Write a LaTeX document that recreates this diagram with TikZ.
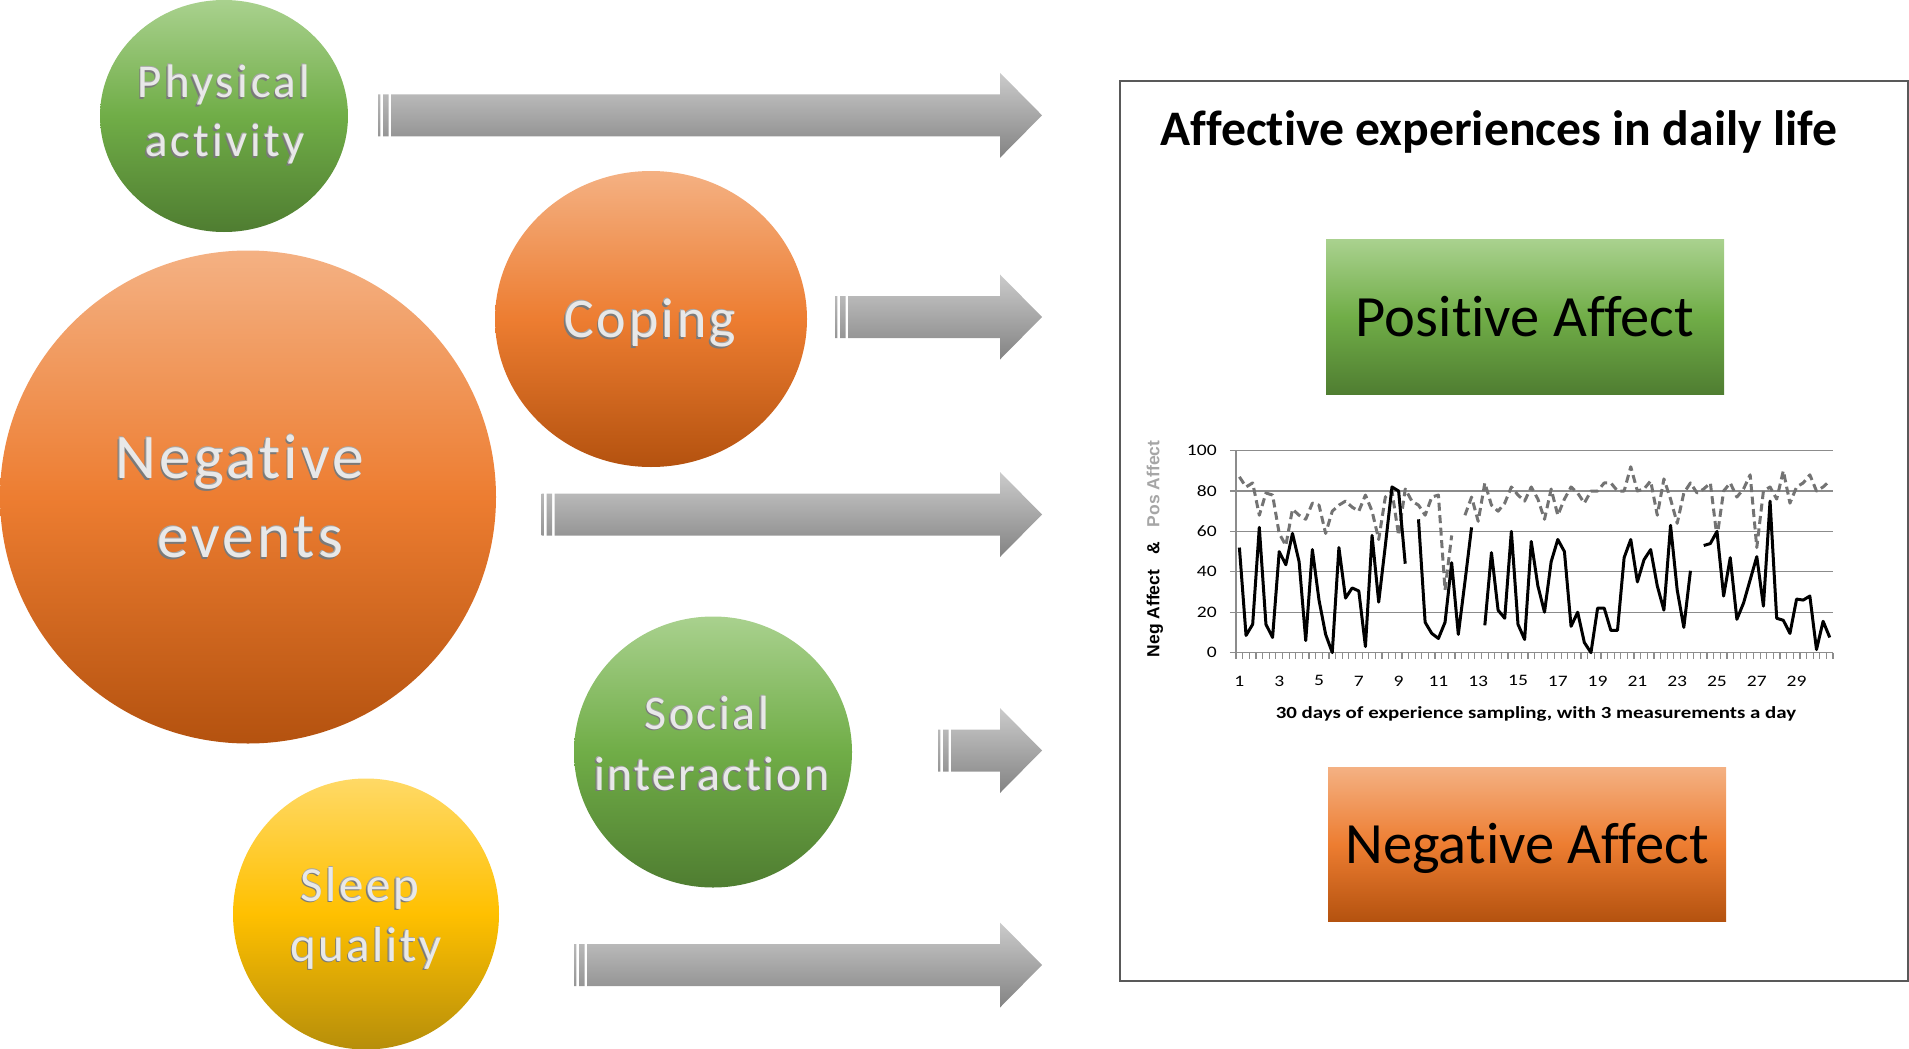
\documentclass[tikz,border=0pt]{standalone}
\usepackage{fontspec}
\usepackage{graphicx}
\setmainfont{Carlito}[Ligatures=NoCommon]
\newfontfamily\circfont[LetterSpace=5.0,Ligatures=NoCommon]{Carlito}
\newfontfamily\arialf{Liberation Sans}
\usetikzlibrary{shapes.geometric}
\definecolor{gT}{HTML}{A9D18E}
\definecolor{gM}{HTML}{70AD47}
\definecolor{gB}{HTML}{4F7D31}
\definecolor{oT}{HTML}{F4B183}
\definecolor{oM}{HTML}{ED7D31}
\definecolor{oB}{HTML}{B4520F}
\definecolor{yT}{HTML}{FFD966}
\definecolor{yM}{HTML}{FFC000}
\definecolor{yB}{HTML}{B68E0A}
\definecolor{arT}{HTML}{CBCBCB}
\definecolor{arB}{HTML}{838383}
\definecolor{txtlight}{HTML}{E8E8E8}
\definecolor{embshadow}{HTML}{7A7A7A}
\definecolor{gridgray}{HTML}{8C8C8C}
\definecolor{posgray}{HTML}{A6A6A6}
\definecolor{posline}{HTML}{737373}
\definecolor{panelgray}{HTML}{595959}
\newcommand\emb[1]{\makebox[0pt][l]{\kern-1.6pt\raisebox{-1.6pt}{\color{embshadow}#1}}\makebox[0pt][l]{\kern-0.6pt\raisebox{0.6pt}{\color{embshadow!60!txtlight}#1}}#1}
\newcommand\striparrow[2]{%
  \shade[top color=arT, bottom color=arB]
    (#1,#2-21) rectangle (#1+2.3,#2+21)
    (#1+5,#2-21) rectangle (#1+10.7,#2+21)
    (#1+13,#2-21) -- (1000,#2-21) -- (1000,#2-42.5) -- (1042,#2) -- (1000,#2+42.5) -- (1000,#2+21) -- (#1+13,#2+21) -- cycle;}
\tikzset{
  blob/.style={ellipse, inner sep=0pt, draw=none},
  ctext/.style={text=txtlight, anchor=base, inner sep=0pt},
  abox/.style={rectangle, inner sep=0pt, draw=none, text height=38pt, text depth=0pt, font=\fontsize{58.5}{58.5}\selectfont},
  grid/.style={draw=gridgray, line width=1.2pt},
  ticklab/.style={font=\fontsize{16}{16}\selectfont, inner sep=0pt},
  negline/.style={draw=black, line width=3pt, line join=round},
  posline/.style={draw=posline, line width=3pt, dash pattern=on 8pt off 4.5pt, line join=round}
}
\begin{document}
\begin{tikzpicture}[x=1pt,y=-1pt]
\useasboundingbox (0,0) rectangle (1909,1049);
% ---- circles ----
\node[blob, minimum width=248, minimum height=232, top color=gT, bottom color=gB, middle color=gM] (physical) at (224,116) {};
\node[blob, minimum width=312, minimum height=296, top color=oT, bottom color=oB, middle color=oM] (coping) at (651,319) {};
\node[blob, minimum width=496, minimum height=493, top color=oT, bottom color=oB, middle color=oM] (negev) at (248,497) {};
\node[blob, minimum width=278, minimum height=271, top color=gT, bottom color=gB, middle color=gM] (social) at (713,752) {};
\node[blob, minimum width=266, minimum height=271, top color=yT, bottom color=yB, middle color=yM] (sleep) at (366,914) {};
% ---- circle texts ----
\node[ctext, font=\circfont\fontsize{47}{47}\selectfont\addfontfeature{LetterSpace=6.5}] (pt1) at (224,97.5) {\emb{Physical}};
\node[ctext, font=\circfont\fontsize{47}{47}\selectfont\addfontfeature{LetterSpace=6.5}] (pt2) at (225,156.5) {\emb{activity}};
\node[ctext, font=\circfont\fontsize{56}{56}\selectfont] (ct1) at (650,337.5) {\emb{Coping}};
\node[ctext, font=\circfont\fontsize{63.5}{63.5}\selectfont] (nt1) at (240,478.5) {\emb{Negative}};
\node[ctext, font=\circfont\fontsize{63.5}{63.5}\selectfont] (nt2) at (250,557.5) {\emb{events}};
\node[ctext, font=\circfont\fontsize{48}{48}\selectfont] (st1) at (707,729) {\emb{Social}};
\node[ctext, font=\circfont\fontsize{48}{48}\selectfont] (st2) at (712,790) {\emb{interaction}};
\node[ctext, font=\circfont\fontsize{49}{49}\selectfont] (sq1) at (360,901) {\emb{Sleep}};
\node[ctext, font=\circfont\fontsize{49}{49}\selectfont] (sq2) at (366,961) {\emb{quality}};
% ---- arrows ----
\striparrow{378}{115.3}
\striparrow{835}{317}
\striparrow{541.5}{514.5}
\striparrow{938}{750.5}
\striparrow{574}{965}
% ---- panel ----
\draw[draw=panelgray, line width=2pt] (1120,81) rectangle (1907.5,981);
\node[font=\bfseries\fontsize{49.7}{49.7}\selectfont, anchor=base, inner sep=0pt] (title) at (1499,145) {Affective experiences in daily life};
\node[abox, minimum width=398, minimum height=154.7, top color=gT, bottom color=gB, middle color=gM] (posbox) at (1525,317.3) {Positive Affect};
\node[abox, minimum width=398, minimum height=154.6, top color=oT, bottom color=oB, middle color=oM] (negbox) at (1527,844.3) {Negative Affect};
% ---- chart ----
\begin{scope}[shift={(1239.4,652.6)}, x=6.633pt, y=2.02pt]
  \foreach \v in {0,20,40,60,80,100} \draw[grid] (-1.42,\v) -- (89.5,\v);
  \draw[grid] (-0.5,0) -- (-0.5,100);
  \foreach \j in {0,...,90} \draw[grid] (\j-0.5,0) -- (\j-0.5,-3.2);
  \foreach \v in {0,20,40,60,80,100} \node[ticklab, anchor=east] (yl\v) at (-3.4,\v) {\scalebox{1.22}[1]{\v}};
  \foreach \k in {1,3,...,29} \node[ticklab] (xl\k) at ({3*(\k-1)},-14) {\scalebox{1.22}[1]{\k}};
  % positive affect (dashed)
  \draw[posline] (0,87) \foreach \v [count=\n from 1] in {82,84,68,79,78,59,53,71,68,66,74,73,59,70,73,75,72,70,78,70,56,77,80,58,81,75,73,68,77,78,31,58} { -- (\n,\v) };
  \draw[posline] (34,68) \foreach \v [count=\n from 35] in {77,65,84,73,70,74,82,78,75,82,76,66,81,68,76,82,79,74,80,80,84,84,80,80,92,80,81,85,68,86,76,64,79,84,79,81,84,57,80,84,77,81,88,52,80,82,76,90,74,82,84,88,80,82,85} { -- (\n,\v) };
  % negative affect (solid)
  \draw[negline] (0,52) \foreach \v [count=\n from 1] in {8.5,14,62,14,7.5,50,43.5,59,45,6,51,26,9,0,52,27,32,30.5,3,58,25,53,82,80,44} { -- (\n,\v) };
  \draw[negline] (27,66) \foreach \v [count=\n from 28] in {15,9.5,7,15,44.5,9,35,62} { -- (\n,\v) };
  \draw[negline] (37,13.5) \foreach \v [count=\n from 38] in {49.5,21,17,60,14,6.5,55,33,20,45,56,50,13,20,5,0,22,22,11,11,47,56,35,46,51,33,21,63,31,12.5,40.5} { -- (\n,\v) };
  \draw[negline] (70,53) \foreach \v [count=\n from 71] in {54,60,28,47,16.5,24.5,36,47.5,23,75,17,16,9.5,26.5,26,28,1.5,15.5,7.5} { -- (\n,\v) };
\end{scope}
\node[font=\bfseries\fontsize{17}{17}\selectfont, inner sep=0pt] (xtitle) at (1536,713.5) {\scalebox{1.23}[1]{30 days of experience sampling, with 3 measurements a day}};
\node[rotate=90, inner sep=0pt, font=\arialf\bfseries\fontsize{17.5}{17.5}\selectfont] (ytitle) at (1155,549) {Neg Affect\hspace{15pt}\&\hspace{15pt}\textcolor{posgray}{Pos Affect}};
\end{tikzpicture}
\end{document}
